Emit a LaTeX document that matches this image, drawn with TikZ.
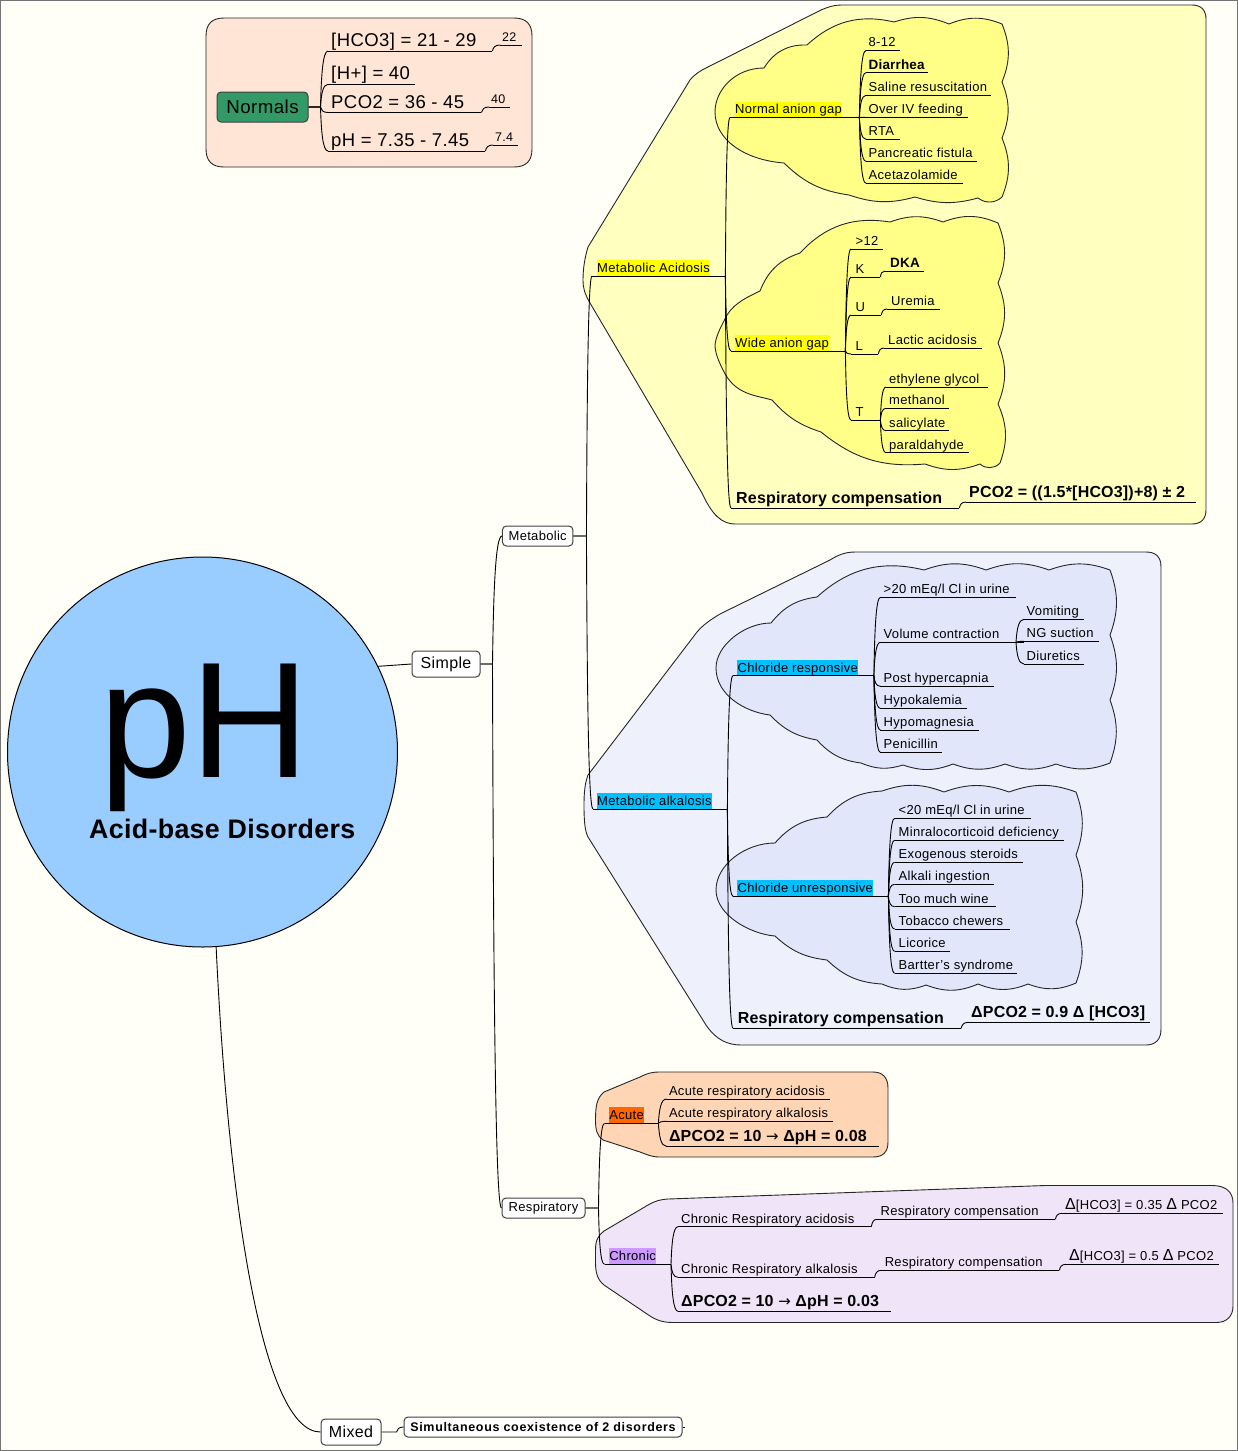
\documentclass[tikz,border=0pt]{standalone}
\usepackage{fontspec}
\setmainfont{Liberation Sans}[LetterSpace=2.4,BoldFeatures={LetterSpace=1.2}]
\newfontfamily\arw{DejaVu Sans}
\newfontfamily\simf{Liberation Sans}[LetterSpace=5.2,BoldFeatures={LetterSpace=5.2}]
\usetikzlibrary{calc}
\definecolor{bgc}{HTML}{FFFFF8}
\definecolor{ylo}{HTML}{FFFFBF}
\definecolor{yin}{HTML}{FFFF88}
\definecolor{blo}{HTML}{EEF1FC}
\definecolor{bin}{HTML}{E1E6FA}
\definecolor{nrm}{HTML}{FFE5D6}
\definecolor{acp}{HTML}{FFD6B5}
\definecolor{chp}{HTML}{F0E5F8}
\definecolor{hy}{HTML}{FFFF00}
\definecolor{hc}{HTML}{00C0FF}
\definecolor{ho}{HTML}{FF6600}
\definecolor{hp}{HTML}{CC99FF}
\definecolor{blu}{HTML}{99CCFF}
\definecolor{grn}{HTML}{339966}
\setlength{\fboxsep}{0.5pt}
\newcommand{\fs}[1]{\fontsize{#1}{#1}\selectfont}
\newcommand{\hl}[2]{\colorbox{#1}{\rule[-3.2pt]{0pt}{15pt}#2}}
\newcommand{\tharrow}{{\arw\mdseries\fs{15}→}}
\tikzset{
  tp/.style={inner sep=0pt,text depth=3.4pt,font=\fs{13}},
  big/.style={text depth=4.2pt,font=\fs{18.5}},
  bold/.style={text depth=4.2pt,font=\fs{16}\bfseries},
  bsm/.style={font=\fs{13.5}\bfseries},
  sm/.style={text depth=3.4pt,font=\fs{12.5}},
  ul/.style={line width=1pt,black},
  conn/.style={line width=0.9pt,black},
  panel/.style={draw=black!85,line width=0.9pt},
  bl/.style={bend left=#1},
  bl/.default=25,
  box/.style={draw=black!75,line width=1pt,fill=white,rounded corners=4pt,inner sep=0pt}
}
\newcommand{\tpn}[7][]{%
  \pgfmathsetmacro\tpw{#4-#3}\pgfmathsetmacro\tpd{#6-#3}%
  \node[tp,#1,anchor=south west] (#2) at (#3,#5) {\makebox[\tpw pt][l]{\hspace*{\tpd pt}#7}};
  \draw[ul] (#2.south west) -- (#2.south east);
}
\newcommand{\lk}[3][0]{%
  \draw[conn] let \p1=($(#2)+(#1,0)$),\p2=(#3) in (#2) -- (\p1)
    .. controls ({\x1+0.1*(\x2-\x1)},{\y1+0.55*(\y2-\y1)}) and ({\x1+0.3*(\x2-\x1)},\y2) .. (\p2);
}
\newcommand{\kids}[3][0]{\foreach \kk in {#3} {\lk[#1]{#2}{\kk.south west}}}
\begin{document}
\begin{tikzpicture}[x=1pt,y=-1pt]
\useasboundingbox (0,0) rectangle (1238,1451);
\fill[bgc] (0,0) rectangle (1238,1451);
\draw[black!55,line width=1pt] (0.5,0.5) rectangle (1237.5,1450.5);

% ---------- panels
\draw[panel,fill=nrm] (206,36) .. controls (206,24) and (212,18) .. (224,18) -- (514,18)
  .. controls (526,18) and (532,24) .. (532,36) -- (532,149)
  .. controls (532,161) and (526,167) .. (514,167) -- (224,167)
  .. controls (212,167) and (206,161) .. (206,149) -- cycle;

\draw[panel,fill=ylo] (841,5) -- (1192,5) .. controls (1201,5) and (1206,10) .. (1206,19)
  -- (1206,510) .. controls (1206,519) and (1201,524) .. (1192,524) -- (735,524)
  .. controls (722,524) and (712,515) .. (702,493) -- (590,303)
  .. controls (585,294) and (583,289) .. (583,280) .. controls (583,268) and (585,257) .. (588,247)
  -- (690,80) .. controls (695,74) and (700,71) .. (706,68) -- (821,10)
  .. controls (828,7) and (834,5) .. (841,5) -- cycle;

\draw[panel,fill=yin] (764,68) to[bl=30] (807,45) to[bl=28] (894,22) to[bl=20] (949,24) to[bl=22] (1002,24)
  to[bl=22] (1002,82) to[bl=22] (1002,138) to[bl=22] (1002,197) to[bl=40] (978,198) to[bl=16] (915,197)
  to[bl=17] (849,195) to[bl=18] (784,163)
  .. controls (745,160) and (715,140) .. (715,112) .. controls (715,90) and (735,68) .. (764,68) -- cycle;

\draw[panel,fill=yin] (800,253) to[bl=28] (890,222) to[bl=20] (943,222) to[bl=22] (998,223)
  to[bl=22] (998,283) to[bl=22] (998,343) to[bl=22] (998,404) to[bl=22] (1000,463) to[bl=45] (980,464)
  to[bl=20] (925,464) to[bl=22] (821,432) to[bl=15] (772,400) .. controls (755,395) and (735,395) .. (723,370)
  .. controls (718,360) and (715,352) .. (715,345) .. controls (716,335) and (722,325) .. (727,315)
  .. controls (735,302) and (750,296) .. (760,291) to[bl=25] (800,253) -- cycle;

\draw[panel,fill=blo] (855.5,552) -- (1146,552) .. controls (1156,552) and (1161,557) .. (1161,567)
  -- (1161,1029) .. controls (1161,1039) and (1156,1045) .. (1146,1045) -- (741,1045)
  .. controls (728,1045) and (716,1040) .. (706,1025) -- (588,837)
  .. controls (585,831) and (584,822) .. (584,805) .. controls (584,792) and (585,783) .. (588,775)
  -- (697,632) .. controls (703,625) and (710,620) .. (720,614) -- (830,560)
  .. controls (838,555) and (845,552) .. (855.5,552) -- cycle;

\draw[panel,fill=bin] (817,597) to[bl=28] (924,570) to[bl=20] (986,570) to[bl=20] (1049,570) to[bl=20] (1110,570)
  to[bl=20] (1110,635) to[bl=20] (1110,700) to[bl=20] (1110,763) to[bl=20] (1056,764) to[bl=20] (1005,764)
  to[bl=20] (953,764) to[bl=20] (903,765) to[bl=20] (861,763) to[bl=20] (817,740) to[bl=18] (770,715)
  .. controls (745,712) and (716,695) .. (716,668) .. controls (716,645) and (745,623) .. (771,623)
  to[bl=22] (817,597) -- cycle;

\draw[panel,fill=bin] (827,817) to[bl=22] (882,791) to[bl=20] (944,792) to[bl=20] (1009,792) to[bl=20] (1076,792)
  to[bl=20] (1076,855) to[bl=20] (1076,922) to[bl=20] (1076,983) to[bl=22] (1028,984) to[bl=22] (978,984)
  to[bl=22] (926,985) to[bl=22] (882,984) to[bl=20] (827,960) to[bl=18] (775,936)
  .. controls (750,934) and (716,915) .. (716,890) .. controls (716,865) and (745,843) .. (775,843)
  to[bl=22] (827,817) -- cycle;

\draw[panel,fill=acp] (660,1072) -- (873,1072) .. controls (883,1072) and (888,1078) .. (888,1088)
  -- (888,1142) .. controls (888,1152) and (883,1157) .. (873,1157) -- (660,1157)
  .. controls (652,1157) and (648,1155) .. (640,1152) -- (603,1140)
  .. controls (597,1136) and (595.5,1130) .. (595.5,1120) .. controls (595.5,1105) and (597,1098) .. (604,1092)
  -- (640,1077) .. controls (648,1073) and (652,1072) .. (660,1072) -- cycle;

\draw[panel,fill=chp] (668,1199) -- (1045,1185.5) -- (1212,1185.5) .. controls (1226,1185.5) and (1233,1192) .. (1233,1203)
  -- (1233,1306) .. controls (1233,1316) and (1227,1322.5) .. (1216,1322.5) -- (674,1322.5)
  .. controls (664,1322.5) and (658,1321) .. (650,1316) -- (604,1285)
  .. controls (598,1280) and (595.5,1274) .. (595.5,1262) -- (595.5,1250)
  .. controls (595.5,1240) and (598,1236) .. (604,1231) -- (648,1205)
  .. controls (655,1201) and (660,1199.5) .. (668,1199) -- cycle;

% ---------- central topic
\node[circle,draw=black,line width=1pt,fill=blu,minimum size=390pt,inner sep=0pt] (ph) at (202.5,752) {};
\node[inner sep=0pt,anchor=base west,font=\fs{165}\addfontfeatures{LetterSpace=0}] (phtxt) at (99,777) {pH};
\node[inner sep=0pt,anchor=base west,font=\fs{26.8}\bfseries] (phsub) at (89,838) {Acid-base Disorders};

% ---------- boxes
\node[box,minimum width=68pt,minimum height=26pt,font=\fs{16}] (simple) at (446,664) {Simple};
\node[box,minimum width=70.5pt,minimum height=20pt,font=\fs{13}] (metab) at (537.7,536) {Metabolic};
\node[box,minimum width=83pt,minimum height=20pt,font=\fs{13}] (resp) at (543.5,1208) {Respiratory};
\node[box,minimum width=60pt,minimum height=26pt,font=\fs{16}] (mixed) at (351,1432) {Mixed};
\node[box,minimum width=278pt,minimum height=20pt,font=\simf\fs{12.5}\bfseries] (simul) at (543,1427) {Simultaneous coexistence of 2 disorders};
\node[box,fill=grn,minimum width=91pt,minimum height=30pt,font=\fs{18.7}] (normals) at (262.5,107) {Normals};
\coordinate (simulend) at (685,1427);

% ---------- normals
\tpn[big]{hco}{328}{492}{51}{331}{[HCO3] = 21 - 29}
\tpn[big]{hplus}{328}{415}{84.3}{331}{[H+] = 40}
\tpn[big]{pco}{328}{481}{112.5}{331}{PCO2 = 36 - 45}
\tpn[big]{phn}{328}{485}{151}{331}{pH = 7.35 - 7.45}
\tpn[sm]{v22}{500}{522}{45}{502}{22}
\tpn[sm]{v40}{489}{510}{107}{491}{40}
\tpn[sm]{v74}{493}{518}{145}{495}{7.4}

% ---------- metabolic acidosis
\tpn{ma}{592}{725}{276}{596.5}{\hl{hy}{Metabolic Acidosis}}
\tpn{nag}{730}{859}{117.5}{734.5}{\hl{hy}{Normal anion gap}}
\tpn{a1}{866}{900}{50.5}{868.5}{8-12}
\tpn[bsm]{a2}{866}{928}{72.7}{868.5}{Diarrhea}
\tpn{a3}{866}{991}{95.3}{868.5}{Saline resuscitation}
\tpn{a4}{866}{968}{117.3}{868.5}{Over IV feeding}
\tpn{a5}{866}{900}{139.3}{868.5}{RTA}
\tpn{a6}{866}{977}{161.3}{868.5}{Pancreatic fistula}
\tpn{a7}{866}{962.5}{183.3}{868.5}{Acetazolamide}
\tpn{wag}{731}{845}{351}{734.5}{\hl{hy}{Wide anion gap}}
\tpn{w1}{851}{883}{249}{855.5}{>12}
\tpn{wk}{851}{880}{277}{855.5}{K}
\tpn{wu}{851}{881}{315}{855.5}{U}
\tpn{wl}{851}{878}{354}{855.5}{L}
\tpn{wt}{851}{880}{420}{855.5}{T}
\tpn[bsm]{dka}{885}{924}{271}{890}{DKA}
\tpn{ure}{887}{940}{309}{891}{Uremia}
\tpn{lac}{884}{982}{348}{888}{Lactic acidosis}
\tpn{t1}{886}{988}{387}{889}{ethylene glycol}
\tpn{t2}{886}{949}{408.3}{889}{methanol}
\tpn{t3}{886}{949}{430.7}{889}{salicylate}
\tpn{t4}{886}{968.5}{452.7}{889}{paraldahyde}
\tpn[bold]{rc1}{731}{959}{508}{736}{Respiratory compensation}
\tpn[bold]{rc1v}{966}{1195.5}{502}{969}{PCO2 = ((1.5*[HCO3])+8) ± 2}

% ---------- metabolic alkalosis
\tpn{mb}{593}{727}{809}{596.5}{\hl{hc}{Metabolic alkalosis}}
\tpn{cr}{733}{873.5}{675.7}{737}{\hl{hc}{Chloride responsive}}
\tpn{c1}{880.4}{1015.5}{597.3}{883.5}{>20 mEq/l Cl in urine}
\tpn{c2}{880.4}{1024}{642.3}{883.5}{Volume contraction}
\tpn{c3}{880.4}{994}{686.3}{883.5}{Post hypercapnia}
\tpn{c4}{880.4}{966.5}{708.3}{883.5}{Hypokalemia}
\tpn{c5}{880.4}{979}{730}{883.5}{Hypomagnesia}
\tpn{c6}{880.4}{941.6}{752.3}{883.5}{Penicillin}
\tpn{d1}{1024}{1084}{619.3}{1026.5}{Vomiting}
\tpn{d2}{1024}{1098.6}{641.3}{1026.5}{NG suction}
\tpn{d3}{1024}{1084}{664}{1026.5}{Diuretics}
\coordinate (c2br) at (1016,642.3);
\tpn{cu}{733}{888}{896.3}{737}{\hl{hc}{Chloride unresponsive}}
\tpn{u1}{894.6}{1030.8}{818.3}{898.5}{<20 mEq/l Cl in urine}
\tpn{u2}{894.6}{1063.7}{840.3}{898.5}{Minralocorticoid deficiency}
\tpn{u3}{894.6}{1022.8}{862.3}{898.5}{Exogenous steroids}
\tpn{u4}{894.6}{993.7}{884.3}{898.5}{Alkali ingestion}
\tpn{u5}{894.6}{995.6}{906.7}{898.5}{Too much wine}
\tpn{u6}{894.6}{1009.8}{929}{898.5}{Tobacco chewers}
\tpn{u7}{894.6}{949.7}{951.3}{898.5}{Licorice}
\tpn{u8}{894.6}{1016.7}{973.3}{898.5}{Bartter's syndrome}
\tpn[bold]{rc2}{733}{960.8}{1028.3}{737.7}{Respiratory compensation}
\tpn[bold]{rc2v}{968.4}{1150}{1022.3}{971}{ΔPCO2 = 0.9 Δ [HCO3]}

% ---------- respiratory
\tpn{ac}{604.5}{658}{1123.3}{608.6}{\hl{ho}{Acute}}
\tpn{ac1}{666.4}{829.7}{1099}{668.8}{Acute respiratory acidosis}
\tpn{ac2}{666.4}{832.6}{1121.3}{668.8}{Acute respiratory alkalosis}
\tpn[bold]{ac3}{666.4}{878.4}{1146.3}{668.8}{ΔPCO2 = 10 \tharrow{} ΔpH = 0.08}
\tpn{ch}{604.5}{670.6}{1264.3}{608.6}{\hl{hp}{Chronic}}
\tpn{ch1}{678}{871}{1226.7}{681}{Chronic Respiratory acidosis}
\tpn{ch1r}{877.2}{1055}{1219.3}{880.5}{Respiratory compensation}
\tpn{ch1v}{1062}{1223}{1213.3}{1065}{{\fs{16}Δ}{\fs{13}[HCO3] = 0.35 }{\fs{16}Δ}{\fs{13} PCO2}}
\tpn{ch2}{678}{874.3}{1277.3}{681}{Chronic Respiratory alkalosis}
\tpn{ch2r}{881.3}{1059}{1270.3}{884.6}{Respiratory compensation}
\tpn{ch2v}{1066}{1219}{1264.3}{1069}{{\fs{16}Δ}{\fs{13}[HCO3] = 0.5 }{\fs{16}Δ}{\fs{13} PCO2}}
\tpn[bold]{ch3}{678}{890.4}{1311.3}{681}{ΔPCO2 = 10 \tharrow{} ΔpH = 0.03}

% ---------- connectors
\draw[conn] (ph.26) -- (simple.west);
\draw[conn] (ph.-86) .. controls (228,1200) and (262,1432) .. (mixed.west);
\lk[12]{simple.east}{metab.west}
\lk[12]{simple.east}{resp.west}
\lk[15]{mixed.east}{simul.west}
\draw[conn] (simul.east) -- (simulend);
\kids[12]{normals.east}{hco,hplus,pco,phn}
\lk{hco.south east}{v22.south west}
\lk{pco.south east}{v40.south west}
\lk{phn.south east}{v74.south west}
\lk[13]{metab.east}{ma.south west}
\lk[13]{metab.east}{mb.south west}
\kids{ma.south east}{nag,wag,rc1}
\lk{rc1.south east}{rc1v.south west}
\kids{nag.south east}{a1,a2,a3,a4,a5,a6,a7}
\kids{wag.south east}{w1,wk,wu,wl,wt}
\lk{wk.south east}{dka.south west}
\lk{wu.south east}{ure.south west}
\lk{wl.south east}{lac.south west}
\kids{wt.south east}{t1,t2,t3,t4}
\kids{mb.south east}{cr,cu,rc2}
\lk{rc2.south east}{rc2v.south west}
\kids{cr.south east}{c1,c2,c3,c4,c5,c6}
\foreach \kk in {d1,d2,d3} {\lk{c2br}{\kk.south west}}
\kids{cu.south east}{u1,u2,u3,u4,u5,u6,u7,u8}
\lk[13]{resp.east}{ac.south west}
\lk[13]{resp.east}{ch.south west}
\kids{ac.south east}{ac1,ac2,ac3}
\kids{ch.south east}{ch1,ch2,ch3}
\lk{ch1.south east}{ch1r.south west}
\lk{ch1r.south east}{ch1v.south west}
\lk{ch2.south east}{ch2r.south west}
\lk{ch2r.south east}{ch2v.south west}
\end{tikzpicture}
\end{document}
